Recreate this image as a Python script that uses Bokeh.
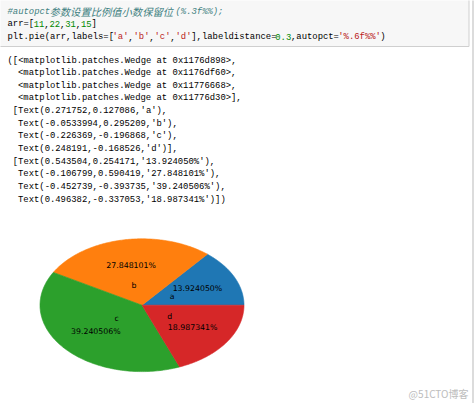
import re
import numpy as np
from bokeh.plotting import figure
from bokeh.models import Range1d, ColumnDataSource
from bokeh.core.properties import value
from bokeh.embed import file_html
from bokeh.resources import INLINE

# ---------------- data ----------------
values = [11, 22, 31, 15]
labels = ['a', 'b', 'c', 'd']
pct_labels = ['13.924050%', '27.848101%', '39.240506%', '18.987341%']
wedge_colors = ['#1f77b4', '#ff7f0e', '#2ca02c', '#d62728']
label_distance = 0.3
pct_distance = 0.6

comment_head = "#autopct"
comment_cjk = "参数设置比例值小数保留位"
comment_tail = "(%.3f%%);"
code_lines = [
    "arr=[11,22,31,15]",
    "plt.pie(arr,labels=['a','b','c','d'],labeldistance=0.3,autopct='%.6f%%')",
]
output_lines = [
    "([<matplotlib.patches.Wedge at 0x1176d898>,",
    "  <matplotlib.patches.Wedge at 0x1176df60>,",
    "  <matplotlib.patches.Wedge at 0x11776668>,",
    "  <matplotlib.patches.Wedge at 0x11776d30>],",
    " [Text(0.271752,0.127086,'a'),",
    "  Text(-0.0533994,0.295209,'b'),",
    "  Text(-0.226369,-0.196868,'c'),",
    "  Text(0.248191,-0.168526,'d')],",
    " [Text(0.543504,0.254171,'13.924050%'),",
    "  Text(-0.106799,0.590419,'27.848101%'),",
    "  Text(-0.452739,-0.393735,'39.240506%'),",
    "  Text(0.496382,-0.337053,'18.987341%')])",
]
watermark = "@51CTO博客"

# ---------------- layout ----------------
W, H = 474, 403
OX, OY = 0, 0
CX, CY = 141.5, 304.7
RX, RY = 102.0, 66.4
CW = 5.25          # monospace char width (px)
MONO = "Liberation Mono"
MONO_SIZE = "8.9px"


def X(px):
    return (px - CX) / RX


def Y(py):
    return (CY - py) / RY


p = figure(width=W, height=H,
           x_range=Range1d(X(OX), X(OX + W)),
           y_range=Range1d(Y(OY + H), Y(OY)),
           output_backend="svg", toolbar_location=None,
           x_axis_location=None, y_axis_location=None,
           min_border=0)
p.grid.visible = False
p.outline_line_color = None
p.background_fill_color = "white"
p.border_fill_color = "white"

# code cell box
p.quad(left=X(-5), right=X(468.5), top=Y(-5), bottom=Y(46),
       fill_color="#f7f7f7", line_color="#cfcfcf", line_width=1)
# right-hand strip
p.quad(left=X(471.5), right=X(480), top=Y(-5), bottom=Y(410),
       fill_color="#dcdcdc", line_color=None)

# ---------------- pie ----------------
vals = np.array(values, dtype=float)
fracs = vals / vals.sum()
starts = 2 * np.pi * np.concatenate([[0], np.cumsum(fracs)[:-1]])
ends = starts + 2 * np.pi * fracs
xs, ys = [], []
for a0, a1 in zip(starts, ends):
    t = np.linspace(a0, a1, 120)
    xs.append(np.concatenate([[0.0], np.cos(t)]))
    ys.append(np.concatenate([[0.0], np.sin(t)]))
p.patches(xs=xs, ys=ys, fill_color=wedge_colors, line_color=wedge_colors, line_width=0.6)

mids = (starts + ends) / 2
lx = label_distance * np.cos(mids)
ly = label_distance * np.sin(mids)
for x, y, t in zip(lx, ly, labels):
    p.text(x=[x], y=[y], text=[t], text_align="left" if x > 0 else "right",
           text_baseline="middle", text_font=value("DejaVu Sans"),
           text_font_size="7.8px", text_color="#000000")
px_ = pct_distance * np.cos(mids)
py_ = pct_distance * np.sin(mids)
p.text(x=list(px_), y=list(py_), text=pct_labels, text_align="center",
       text_baseline="middle", text_font=value("DejaVu Sans"),
       text_font_size="7.8px", text_color="#000000")

# ---------------- code text ----------------
def tokens(line):
    out = []
    for m in re.finditer(r"'[^']*'|\d+(?:\.\d+)?|[^'\d]+", line):
        s = m.group(0)
        if s.startswith("'"):
            c = "#ba2121"
        elif s[0].isdigit():
            c = "#008800"
        else:
            c = "#000000"
        out.append((m.start(), s, c))
    return out


X0 = 7.0
tx, ty, tt, tc = [], [], [], []
code_y = [23.7, 36.4]
for line, yy in zip(code_lines, code_y):
    for col, s, c in tokens(line):
        tx.append(X(X0 + col * CW)); ty.append(Y(yy)); tt.append(s); tc.append(c)
out_y0, out_dy = 60.0, 12.65
for i, line in enumerate(output_lines):
    stripped = line.lstrip(" ")
    col = len(line) - len(stripped)
    tx.append(X(X0 + col * CW)); ty.append(Y(out_y0 + i * out_dy)); tt.append(stripped); tc.append("#000000")
src = ColumnDataSource(dict(x=tx, y=ty, text=tt, color=tc))
p.text(x="x", y="y", text="text", text_color="color", source=src,
       text_align="left", text_baseline="middle",
       text_font=value(MONO), text_font_size=MONO_SIZE)

# comment line (italic)
cy_c = 11.0
p.text(x=[X(X0)], y=[Y(cy_c)], text=[comment_head], text_align="left", text_baseline="middle",
       text_font=value(MONO), text_font_size=MONO_SIZE, text_font_style="italic", text_color="#408080")
p.text(x=[X(X0 + len(comment_head) * CW)], y=[Y(cy_c)], text=[comment_cjk], text_align="left",
       text_baseline="middle", text_font=value("Noto Sans CJK SC"), text_font_size="10.3px",
       text_font_style="italic", text_color="#408080")
p.text(x=[X(X0 + (len(comment_head) + 2 * len(comment_cjk)) * CW)], y=[Y(cy_c)], text=[comment_tail],
       text_align="left", text_baseline="middle", text_font=value(MONO), text_font_size=MONO_SIZE,
       text_font_style="italic", text_color="#408080")

# watermark
p.text(x=[X(468)], y=[Y(393)], text=[watermark], text_align="right", text_baseline="middle",
       text_font=value("Noto Sans CJK SC"), text_font_size="10px", text_color="#bdbdbd")

open("out.html", "w").write(file_html(p, INLINE))
